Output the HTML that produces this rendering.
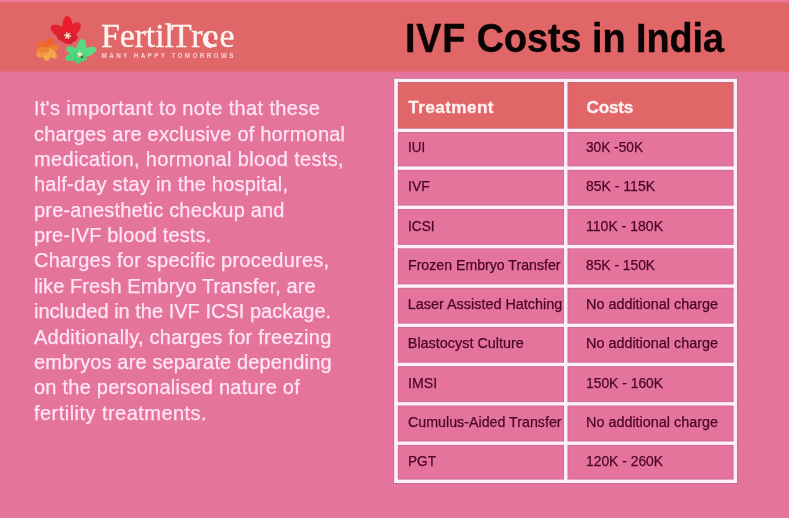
<!DOCTYPE html>
<html lang="en">
<head>
<meta charset="utf-8">
<title>IVF Costs in India</title>
<style>
html,body{margin:0;padding:0;}
body{width:789px;height:518px;overflow:hidden;background:#E5749D;font-family:"Liberation Sans",sans-serif;position:relative;}
#band{position:absolute;left:0;top:0;}
#title{position:absolute;left:405.3px;top:9.6px;margin:0;font-size:40.7px;font-weight:bold;color:#0a0304;-webkit-text-stroke:0.4px #0a0304;white-space:nowrap;line-height:56px;transform:scaleX(0.927);transform-origin:0 0;}
#para{position:absolute;left:34px;top:0;margin:0;color:#FFE5F1;font-size:20px;-webkit-text-stroke:0.25px #FFE5F1;}
#para span{position:absolute;left:0;white-space:nowrap;line-height:26px;height:26px;}
#grid{position:absolute;left:0;top:0;}
.c{position:absolute;white-space:nowrap;transform-origin:0 0;color:#4A0527;-webkit-text-stroke:0.25px #4A0527;font-size:14.4px;line-height:20px;height:20px;}
.h{position:absolute;white-space:nowrap;color:#FFF1F1;-webkit-text-stroke:0.3px #FFF1F1;font-size:17.2px;font-weight:bold;line-height:20px;height:20px;}
#brand{position:absolute;left:0;top:0;margin:0;font-family:"Liberation Serif",serif;font-size:34px;line-height:40px;color:#FFF4F2;-webkit-text-stroke:0.35px #FFF4F2;white-space:nowrap;font-weight:normal;}
#brand span{position:absolute;top:15.9px;transform-origin:0 0;display:block;}
#b1{left:101.4px;transform:scaleX(0.99);}
#b2{left:170.6px;transform:scaleX(0.995);letter-spacing:0.9px;}
#tag{position:absolute;left:101.6px;top:50.8px;margin:0;font-size:6.3px;line-height:9px;letter-spacing:2.39px;color:#FAD0D6;font-weight:bold;white-space:nowrap;}
</style>
</head>
<body>
<svg id="band" width="789" height="76" viewBox="0 0 789 76"><rect x="0" y="0" width="789" height="3" fill="#EC789C"/><rect x="0" y="2.3" width="789" height="69.2" fill="#E06668"/></svg>
<svg id="logo" width="110" height="71" viewBox="0 0 110 71" style="position:absolute;left:0;top:0">
<defs><filter id="sf" x="-5%" y="-5%" width="110%" height="110%"><feGaussianBlur stdDeviation="0.35"/></filter></defs>
<g filter="url(#sf)">
<g>
<ellipse cx="60.3" cy="31.6" rx="10.8" ry="5.5" transform="rotate(-150 60.3 31.6)" fill="#E3242F"/>
<ellipse cx="73.2" cy="30.3" rx="9.8" ry="5.0" transform="rotate(-47 73.2 30.3)" fill="#E3242F"/>
<ellipse cx="67.6" cy="27.0" rx="11.0" ry="5.2" transform="rotate(-92 67.6 27.0)" fill="#EA1F2E"/>
<ellipse cx="63.4" cy="36.4" rx="6.5" ry="4.5" transform="rotate(175 63.4 36.4)" fill="#D9202F"/>
<ellipse cx="71.8" cy="37.0" rx="6.0" ry="4.5" transform="rotate(15 71.8 37.0)" fill="#DC2130"/>
<ellipse cx="69.0" cy="39.1" rx="5.2" ry="4.5" transform="rotate(70 69.0 39.1)" fill="#D41F2E"/>
<ellipse cx="66.2" cy="38.5" rx="5.0" ry="4.0" transform="rotate(125 66.2 38.5)" fill="#D62232"/>
<circle cx="70.3" cy="36.2" r="0.9" fill="#F6D2B4"/>
<circle cx="68.5" cy="38.2" r="0.9" fill="#F6D2B4"/>
<circle cx="65.9" cy="37.8" r="0.9" fill="#F6D2B4"/>
<circle cx="64.9" cy="35.2" r="0.9" fill="#F6D2B4"/>
<circle cx="66.7" cy="33.2" r="0.9" fill="#F6D2B4"/>
<circle cx="69.3" cy="33.6" r="0.9" fill="#F6D2B4"/>
<circle cx="67.6" cy="35.7" r="2.0" fill="#F8DCC0"/>
</g>
<g>
<ellipse cx="43.1" cy="46.5" rx="7.5" ry="3.8" transform="rotate(-140 43.1 46.5)" fill="#EC6B2F"/>
<ellipse cx="48.7" cy="44.9" rx="7.2" ry="4.0" transform="rotate(-75 48.7 44.9)" fill="#EE6628"/>
<ellipse cx="52.4" cy="48.6" rx="7.2" ry="3.8" transform="rotate(-15 52.4 48.6)" fill="#F07A30"/>
<ellipse cx="51.1" cy="53.2" rx="7.0" ry="3.8" transform="rotate(40 51.1 53.2)" fill="#F4A347"/>
<ellipse cx="46.9" cy="54.5" rx="6.5" ry="3.8" transform="rotate(95 46.9 54.5)" fill="#F3A94C"/>
<ellipse cx="42.8" cy="52.6" rx="7.2" ry="3.8" transform="rotate(150 42.8 52.6)" fill="#F29A40"/>
<ellipse cx="42.8" cy="49.8" rx="6.5" ry="3.0" transform="rotate(-178 42.8 49.8)" fill="#EE8236"/>
<circle cx="47.3" cy="50.0" r="2" fill="#E8862F"/>
</g>
<g>
<ellipse cx="74.1" cy="51.8" rx="8.8" ry="4.2" transform="rotate(-153 74.1 51.8)" fill="#55D880"/>
<ellipse cx="73.6" cy="56.6" rx="8.8" ry="4.0" transform="rotate(165 73.6 56.6)" fill="#50D47B"/>
<ellipse cx="87.3" cy="52.0" rx="9.8" ry="4.2" transform="rotate(-22 87.3 52.0)" fill="#58DB83"/>
<ellipse cx="81.3" cy="48.0" rx="9.0" ry="4.8" transform="rotate(-80 81.3 48.0)" fill="#54DA80"/>
<ellipse cx="78.7" cy="58.1" rx="5.5" ry="4.2" transform="rotate(113 78.7 58.1)" fill="#4BCE76"/>
<ellipse cx="82.2" cy="57.0" rx="5.0" ry="4.0" transform="rotate(45 82.2 57.0)" fill="#4DD078"/>
<circle cx="82.1" cy="53.4" r="0.8" fill="#E4E8B8"/>
<circle cx="81.3" cy="56.3" r="0.8" fill="#E4E8B8"/>
<circle cx="78.4" cy="56.4" r="0.8" fill="#E4E8B8"/>
<circle cx="77.4" cy="53.6" r="0.8" fill="#E4E8B8"/>
<circle cx="79.7" cy="51.8" r="0.8" fill="#E4E8B8"/>
<circle cx="79.8" cy="54.3" r="1.9" fill="#EFE9C0"/>
<circle cx="81.9" cy="57.1" r="1.2" fill="#3F4A24"/>
</g>
</g>
</svg>
<h2 id="brand"><span id="b1">Fertil</span><span id="b2">Tree</span></h2>
<p id="tag">MANY HAPPY TOMORROWS</p>
<svg id="acc" width="40" height="30" viewBox="196 26 40 30" style="position:absolute;left:196px;top:26px"><defs><mask id="cm"><rect x="196" y="26" width="40" height="30" fill="#fff"/><ellipse cx="212.6" cy="37.6" rx="5.4" ry="6.6" fill="#000"/></mask></defs><ellipse cx="209.9" cy="39.4" rx="7.1" ry="8.5" fill="#FFF4F2" mask="url(#cm)"/><path d="M211.2 41.6 C209.2 40.2 207.9 38.9 208.4 37.6 C208.9 36.5 210.4 36.6 211.2 37.8 C212 36.6 213.6 36.5 214.1 37.6 C214.6 38.9 213.2 40.2 211.2 41.6 Z" fill="#EA4A62"/></svg>
<h1 id="title"><span style="letter-spacing:0.9px">IVF</span> Costs in India</h1>
<p id="para">
<span style="top:95.2px;letter-spacing:0.37px">It's important to note that these</span>
<span style="top:120.6px;letter-spacing:0.20px">charges are exclusive of hormonal</span>
<span style="top:146.0px;letter-spacing:0.33px">medication, hormonal blood tests,</span>
<span style="top:171.3px;letter-spacing:0.21px">half-day stay in the hospital,</span>
<span style="top:196.7px;letter-spacing:0.19px">pre-anesthetic checkup and</span>
<span style="top:222.1px;letter-spacing:0.14px">pre-IVF blood tests.</span>
<span style="top:247.4px;letter-spacing:0.23px">Charges for specific procedures,</span>
<span style="top:272.8px;letter-spacing:0.09px">like Fresh Embryo Transfer, are</span>
<span style="top:298.1px;letter-spacing:0.01px">included in the IVF ICSI package.</span>
<span style="top:323.5px;letter-spacing:0.26px">Additionally, charges for freezing</span>
<span style="top:348.9px;letter-spacing:0.14px">embryos are separate depending</span>
<span style="top:374.2px;letter-spacing:0.24px">on the personalised nature of</span>
<span style="top:399.6px;letter-spacing:0.46px">fertility treatments.</span>
</p>
<svg id="grid" width="789" height="518" viewBox="0 0 789 518">
<rect x="396" y="80.4" width="339.5" height="50" fill="#E06668"/>
<g fill="#9A6A86" fill-opacity="0.38">
<rect x="393.3" y="77.9" width="5.4" height="406"/>
<rect x="563.1" y="77.9" width="5.3" height="406"/>
<rect x="732.7" y="77.9" width="5.2" height="406"/>
<rect x="393.3" y="77.9" width="344.6" height="5.0"/>
<rect x="393.3" y="127.8" width="344.6" height="5.1"/>
<rect x="393.3" y="165.5" width="344.6" height="5.2"/>
<rect x="393.3" y="204.7" width="344.6" height="5.2"/>
<rect x="393.3" y="244.0" width="344.6" height="5.2"/>
<rect x="393.3" y="283.5" width="344.6" height="5.2"/>
<rect x="393.3" y="322.7" width="344.6" height="5.2"/>
<rect x="393.3" y="361.8" width="344.6" height="5.2"/>
<rect x="393.3" y="401.2" width="344.6" height="5.2"/>
<rect x="393.3" y="440.6" width="344.6" height="5.2"/>
<rect x="393.3" y="478.7" width="344.6" height="5.2"/>
</g>
<g fill="#FFEFFA">
<rect x="394.2" y="78.8" width="3.6" height="404.2"/>
<rect x="564.0" y="78.8" width="3.5" height="404.2"/>
<rect x="733.6" y="78.8" width="3.4" height="404.2"/>
<rect x="394.2" y="78.8" width="342.8" height="3.2"/>
<rect x="394.2" y="128.7" width="342.8" height="3.3"/>
<rect x="394.2" y="166.4" width="342.8" height="3.4"/>
<rect x="394.2" y="205.6" width="342.8" height="3.4"/>
<rect x="394.2" y="244.9" width="342.8" height="3.4"/>
<rect x="394.2" y="284.4" width="342.8" height="3.4"/>
<rect x="394.2" y="323.6" width="342.8" height="3.4"/>
<rect x="394.2" y="362.7" width="342.8" height="3.4"/>
<rect x="394.2" y="402.1" width="342.8" height="3.4"/>
<rect x="394.2" y="441.5" width="342.8" height="3.4"/>
<rect x="394.2" y="479.6" width="342.8" height="3.4"/>
</g></svg>
<div id="tbl">
<div class="h" style="left:408.2px;top:97.4px;letter-spacing:0.40px;">Treatment</div>
<div class="h" style="left:586.5px;top:97.4px;letter-spacing:-0.25px;">Costs</div>
<div class="c" style="left:407.8px;top:136.9px;transform:scaleX(0.930);">IUI</div><div class="c" style="left:586.0px;top:136.9px;transform:scaleX(0.950);">30K -50K</div>
<div class="c" style="left:407.8px;top:176.2px;transform:scaleX(0.972);">IVF</div><div class="c" style="left:586.0px;top:176.2px;transform:scaleX(0.973);">85K - 115K</div>
<div class="c" style="left:407.8px;top:215.5px;transform:scaleX(0.952);">ICSI</div><div class="c" style="left:586.0px;top:215.5px;transform:scaleX(0.976);">110K - 180K</div>
<div class="c" style="left:407.8px;top:254.8px;transform:scaleX(0.983);">Frozen Embryo Transfer</div><div class="c" style="left:586.0px;top:254.8px;transform:scaleX(0.959);">85K - 150K</div>
<div class="c" style="left:407.8px;top:294.1px;">Laser Assisted Hatching</div><div class="c" style="left:586.0px;top:294.1px;">No additional charge</div>
<div class="c" style="left:407.8px;top:333.4px;">Blastocyst Culture</div><div class="c" style="left:586.0px;top:333.4px;">No additional charge</div>
<div class="c" style="left:407.8px;top:372.7px;transform:scaleX(0.985);">IMSI</div><div class="c" style="left:586.0px;top:372.7px;transform:scaleX(0.963);">150K - 160K</div>
<div class="c" style="left:407.8px;top:412.0px;transform:scaleX(0.990);">Cumulus-Aided Transfer</div><div class="c" style="left:586.0px;top:412.0px;">No additional charge</div>
<div class="c" style="left:407.8px;top:451.3px;transform:scaleX(0.944);">PGT</div><div class="c" style="left:586.0px;top:451.3px;transform:scaleX(0.963);">120K - 260K</div>
</div>
</body>
</html>
